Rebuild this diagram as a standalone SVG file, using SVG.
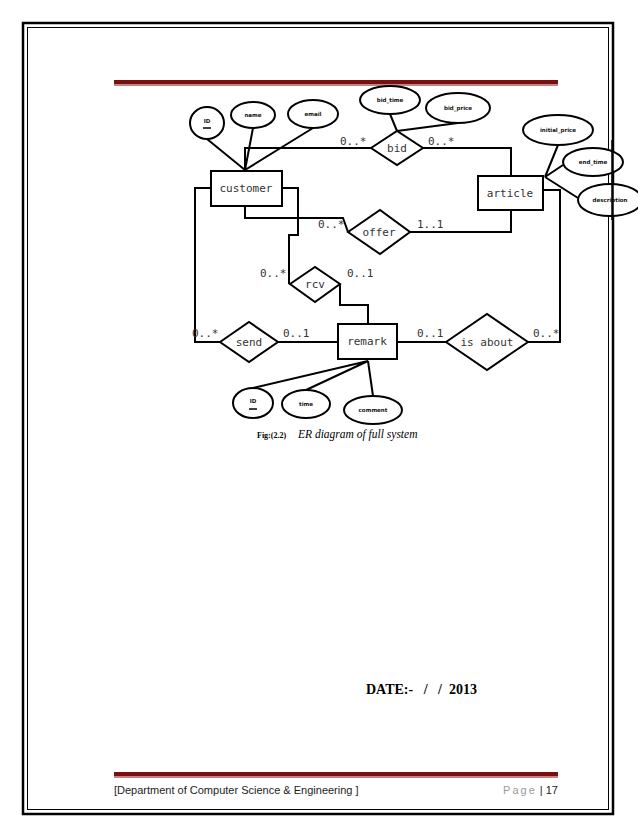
<svg xmlns="http://www.w3.org/2000/svg" width="638" height="826" viewBox="0 0 638 826">
<style>
.s{fill:white;stroke:black;stroke-width:2}
.l{fill:none;stroke:black;stroke-width:2}
.t{font-family:"DejaVu Sans Mono",monospace;font-size:11px;fill:#333}
.a{font-family:"DejaVu Sans",sans-serif;font-size:5.5px;fill:#111;text-anchor:middle;font-weight:bold}
.c{text-anchor:middle}
</style>
<rect width="638" height="826" fill="white"/>
<rect x="23" y="23" width="590" height="791" fill="none" stroke="black" stroke-width="2.5"/>
<rect x="27.5" y="27.5" width="581" height="782" fill="none" stroke="black" stroke-width="1"/>
<line x1="114" y1="82" x2="558" y2="82" stroke="#7a0f0f" stroke-width="4"/>
<line x1="114" y1="85" x2="558" y2="85" stroke="#7a0f0f" stroke-width="1"/>
<line x1="114" y1="774" x2="558" y2="774" stroke="#7a0f0f" stroke-width="4"/>
<line x1="114" y1="777" x2="558" y2="777" stroke="#7a0f0f" stroke-width="1"/>
<text x="114" y="794" font-family="Liberation Sans,sans-serif" font-size="11" fill="#222">[Department of Computer Science &amp; Engineering ]</text>
<text x="558" y="794" font-family="Liberation Sans,sans-serif" font-size="11" fill="#222" text-anchor="end"><tspan fill="#999" letter-spacing="2">Page</tspan> | 17</text>
<g id="connectors">
<path class="l" d="M245,170 L207,139 M245,170 L253,128 M245,170 L313,128"/>
<path class="l" d="M245,171 V148 H371 M423,148 H511 V176"/>
<path class="l" d="M397,131 L390,114 M397,131 L458,123"/>
<path class="l" d="M211,188 H195 V342 H220 M278,342 H338"/>
<path class="l" d="M282,188 H298 V235 H289 V284"/>
<path class="l" d="M245,206 V218 H343 L348,232 M410,232 H511 V210"/>
<path class="l" d="M543,190 H560 V342 H528 M446,342 H397"/>
<path class="l" d="M340,284 V305 H368 V324"/>
<path class="l" d="M545,177 L558,145 M545,177 L563,165 M545,177 L578,198"/>
<path class="l" d="M368,361 L253,388 M368,361 L306,390 M368,361 L373,396"/>
</g>
<g id="ID1"><ellipse class="s" cx="207" cy="123" rx="17" ry="16"/><text class="a" x="207" y="123">ID</text><line x1="203" y1="128" x2="211" y2="128" stroke="black" stroke-width="1.5"/></g>
<g id="name"><ellipse class="s" cx="253" cy="115" rx="22" ry="13"/><text class="a" x="253" y="117">name</text></g>
<g id="email"><ellipse class="s" cx="313" cy="114" rx="25" ry="14"/><text class="a" x="313" y="116">email</text></g>
<g id="customer"><rect class="s" x="211" y="171" width="71" height="35"/><text class="t c" x="246" y="192">customer</text></g>
<g id="bid_time"><ellipse class="s" cx="390" cy="100" rx="30" ry="14"/><text class="a" x="390" y="102">bid_time</text></g>
<g id="bid_price"><ellipse class="s" cx="458" cy="108" rx="32" ry="15"/><text class="a" x="458" y="110">bid_price</text></g>
<g id="bid"><polygon class="s" points="371,148 397,131 423,148 397,165"/><text class="t c" x="397" y="152">bid</text></g>
<g id="article"><rect class="s" x="478" y="176" width="65" height="34"/><text class="t c" x="510" y="197">article</text></g>
<g id="initial_price"><ellipse class="s" cx="558" cy="130" rx="35" ry="15"/><text class="a" x="558" y="132">initial_price</text></g>
<g id="end_time"><ellipse class="s" cx="593" cy="162" rx="30" ry="14"/><text class="a" x="593" y="164">end_time</text></g>
<g id="description"><ellipse class="s" cx="610" cy="200" rx="32" ry="16"/><text class="a" x="610" y="202">description</text></g>
<line x1="612.5" y1="140" x2="612.5" y2="220" stroke="black" stroke-width="2.5"/>
<g id="offer"><polygon class="s" points="348,232 380,210 410,232 380,254"/><text class="t c" x="379" y="236">offer</text></g>
<g id="rcv"><polygon class="s" points="290,284 315,267 340,284 315,302"/><text class="t c" x="315" y="288">rcv</text></g>
<g id="send"><polygon class="s" points="220,342 249,322 278,342 249,362"/><text class="t c" x="249" y="346">send</text></g>
<g id="remark"><rect class="s" x="338" y="324" width="59" height="35"/><text class="t c" x="367" y="345">remark</text></g>
<g id="is_about"><polygon class="s" points="446,342 487,314 528,342 487,370"/><text class="t c" x="487" y="346">is about</text></g>
<g id="ID2"><ellipse class="s" cx="253" cy="403" rx="20" ry="15"/><text class="a" x="253" y="403">ID</text><line x1="249" y1="409" x2="257" y2="409" stroke="black" stroke-width="1.5"/></g>
<g id="time"><ellipse class="s" cx="306" cy="404" rx="24" ry="14"/><text class="a" x="306" y="406">time</text></g>
<g id="comment"><ellipse class="s" cx="373" cy="410" rx="29" ry="14"/><text class="a" x="373" y="412">comment</text></g>
<g id="labels">
<text class="t" x="340" y="145">0..*</text>
<text class="t" x="428" y="145">0..*</text>
<text class="t" x="318" y="228">0..*</text>
<text class="t" x="417" y="228">1..1</text>
<text class="t" x="260" y="277">0..*</text>
<text class="t" x="347" y="277">0..1</text>
<text class="t" x="192" y="337">0..*</text>
<text class="t" x="283" y="337">0..1</text>
<text class="t" x="417" y="337">0..1</text>
<text class="t" x="533" y="337">0..*</text>
</g>
<text x="257" y="438" font-family="Liberation Serif,serif" font-size="8" font-weight="bold">Fig:(2.2)</text>
<text x="298" y="438" font-family="Liberation Serif,serif" font-size="11.5" font-style="italic">ER diagram of full system</text>
<text x="366" y="694" font-family="Liberation Serif,serif" font-size="14" font-weight="bold" xml:space="preserve">DATE:-   /   /  2013</text>
</svg>
